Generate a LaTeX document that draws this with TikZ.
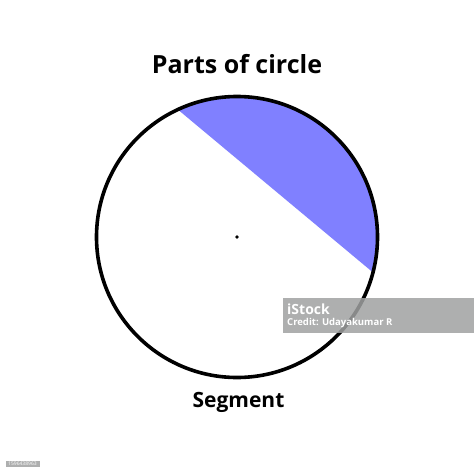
\documentclass[tikz,border=0pt]{standalone}
\usepackage{fontspec}
\setmainfont{Open Sans}
\definecolor{segblue}{RGB}{128,128,255}
\definecolor{wmgray}{RGB}{160,162,162}
\tikzset{
  rim/.style={draw=black, line width=3.6pt},
  lbl/.style={inner sep=0pt, font=\bfseries},
  wm/.style={fill=wmgray, fill opacity=0.85, draw=none},
  wmtext/.style={inner sep=0pt, anchor=west, text=white}
}
\begin{document}
\begin{tikzpicture}[x=1pt,y=-1pt]
\useasboundingbox[fill=white] (0,0) rectangle (474,474);
\coordinate (O) at (237,237);
% segment
\fill[segblue] (O) ++(14.6:140.5) arc[start angle=14.6, end angle=-114.9, radius=140.5] -- cycle;
% circle
\draw[rim] (O) circle (140.5);
\fill (O) circle (1.8);
% labels
\node[lbl, font=\fontsize{25}{25}\selectfont\bfseries, anchor=base] (title) at (237,73) {Parts of circle};
\node[lbl, font=\fontsize{21}{21}\selectfont\bfseries, anchor=base] (seg) at (238.5,407) {Segment};
% watermark
\fill[wm] (283,298) rectangle (474,333);
\node[wmtext, font=\fontsize{14}{14}\selectfont\bfseries] (istock) at (287,309.5) {iStock};
\node[wmtext, font=\fontsize{9.5}{9.5}\selectfont\bfseries] (credit) at (287,323.5) {Credit: Udayakumar R};
\fill[wm] (6,460.5) rectangle (40,467);
\node[wmtext, font=\fontsize{5}{5}\selectfont] (id) at (8,463.8) {1596438963};
\end{tikzpicture}
\end{document}
